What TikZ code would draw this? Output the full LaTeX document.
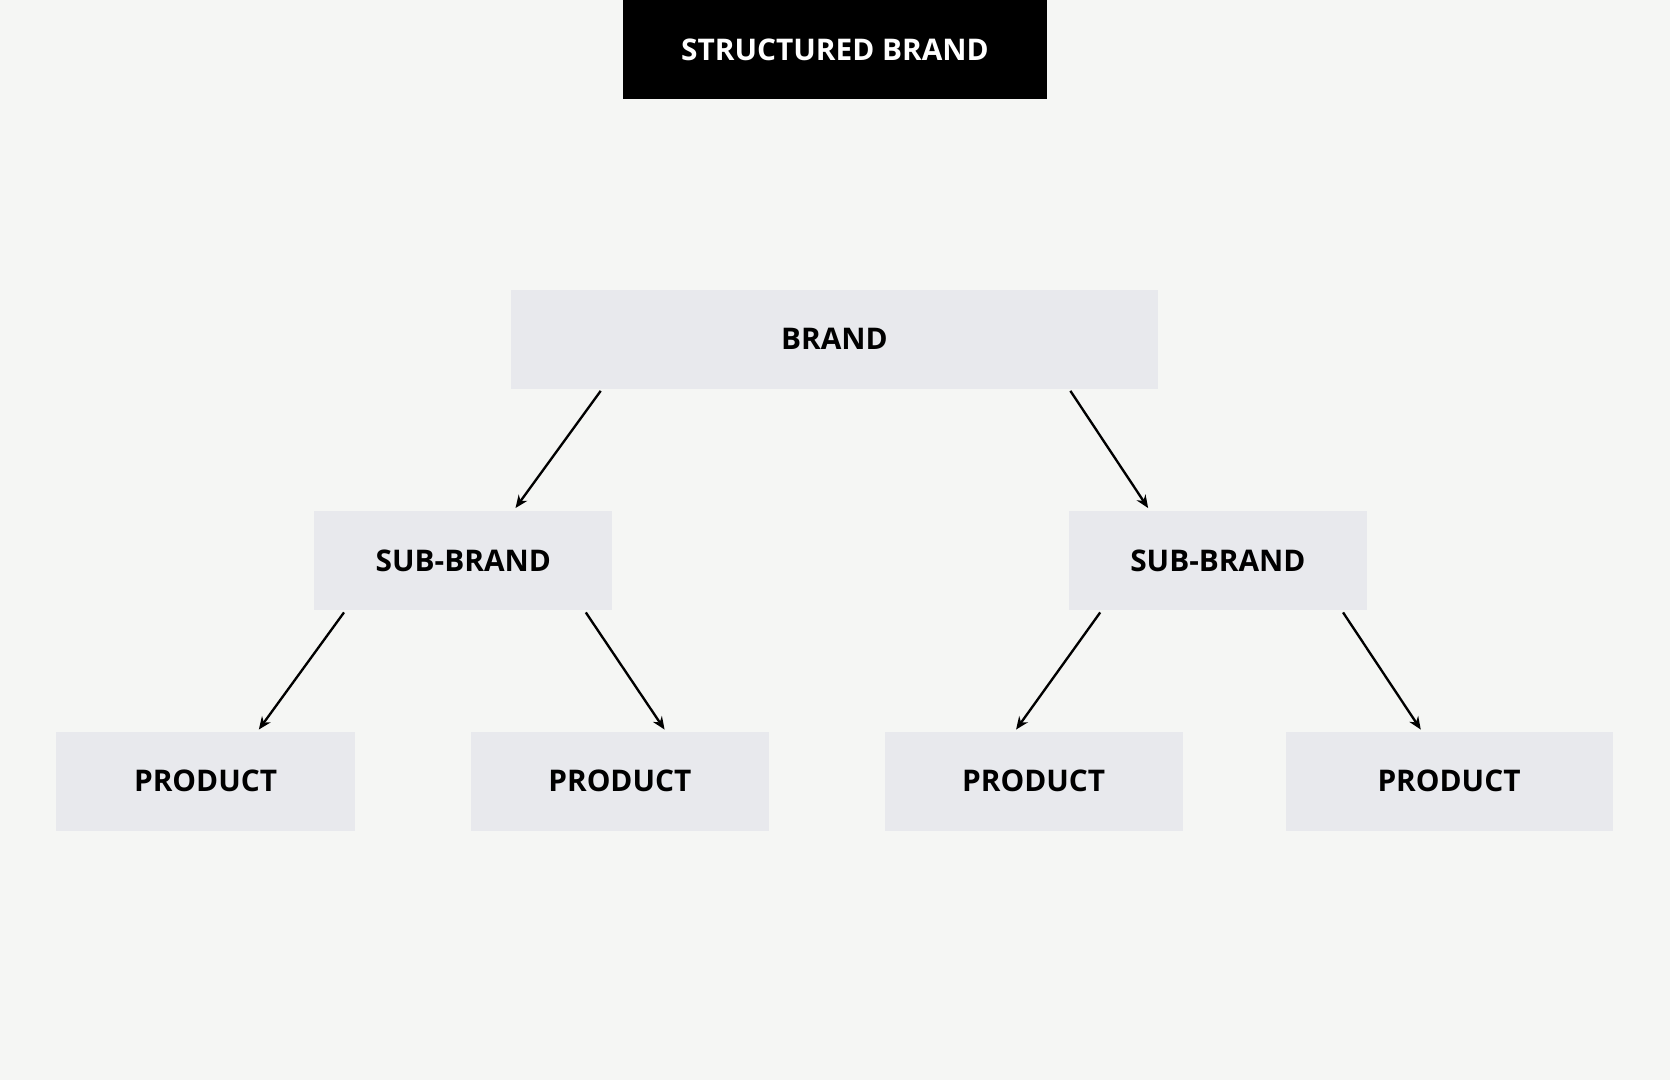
\documentclass[tikz,border=0pt]{standalone}
\usepackage{fontspec}
\setmainfont{Open Sans}
\usetikzlibrary{arrows.meta}
\definecolor{bg}{HTML}{F5F6F4}
\definecolor{boxc}{HTML}{E8E9ED}
\begin{document}
\begin{tikzpicture}[x=0.5pt,y=-0.5pt,
  bx/.style={fill=boxc,draw=none,minimum height=46.5pt,inner sep=0pt,font=\bfseries\fontsize{14}{16}\selectfont},
  arr/.style={-{Stealth[length=6pt,width=5pt]},line width=1.1pt}]
\fill[bg] (0,0) rectangle (1568,1014);
\useasboundingbox (0,0) rectangle (1568,1014);
\node[fill=black,text=white,minimum width=199pt,minimum height=46.5pt,inner sep=0pt,font=\bfseries\fontsize{14}{16}\selectfont] (title) at (784,46.5) {STRUCTURED BRAND};
\node[bx,minimum width=303.5pt] (brand) at (783.5,318.5) {BRAND};
\node[bx,minimum width=140pt] (s1) at (435,526.5) {SUB-BRAND};
\node[bx,minimum width=140pt] (s2) at (1143.5,526.5) {SUB-BRAND};
\node[bx,minimum width=140pt] (p1) at (193,733.5) {PRODUCT};
\node[bx,minimum width=140pt] (p2) at (582,733.5) {PRODUCT};
\node[bx,minimum width=140pt] (p3) at (970.5,733.5) {PRODUCT};
\node[bx,minimum width=153.5pt] (p4) at (1360.5,733.5) {PRODUCT};
\coordinate (a1) at (564,367); \coordinate (b1) at (484,477);
\coordinate (a2) at (1005,367); \coordinate (b2) at (1078,477);
\coordinate (a3) at (323,575); \coordinate (b3) at (243,685);
\coordinate (a4) at (550,575); \coordinate (b4) at (624,685);
\coordinate (a5) at (1033,575); \coordinate (b5) at (954,685);
\coordinate (a6) at (1261,575); \coordinate (b6) at (1334,685);
\foreach \i in {1,...,6} \draw[arr] (a\i) -- (b\i);
\end{tikzpicture}
\end{document}
